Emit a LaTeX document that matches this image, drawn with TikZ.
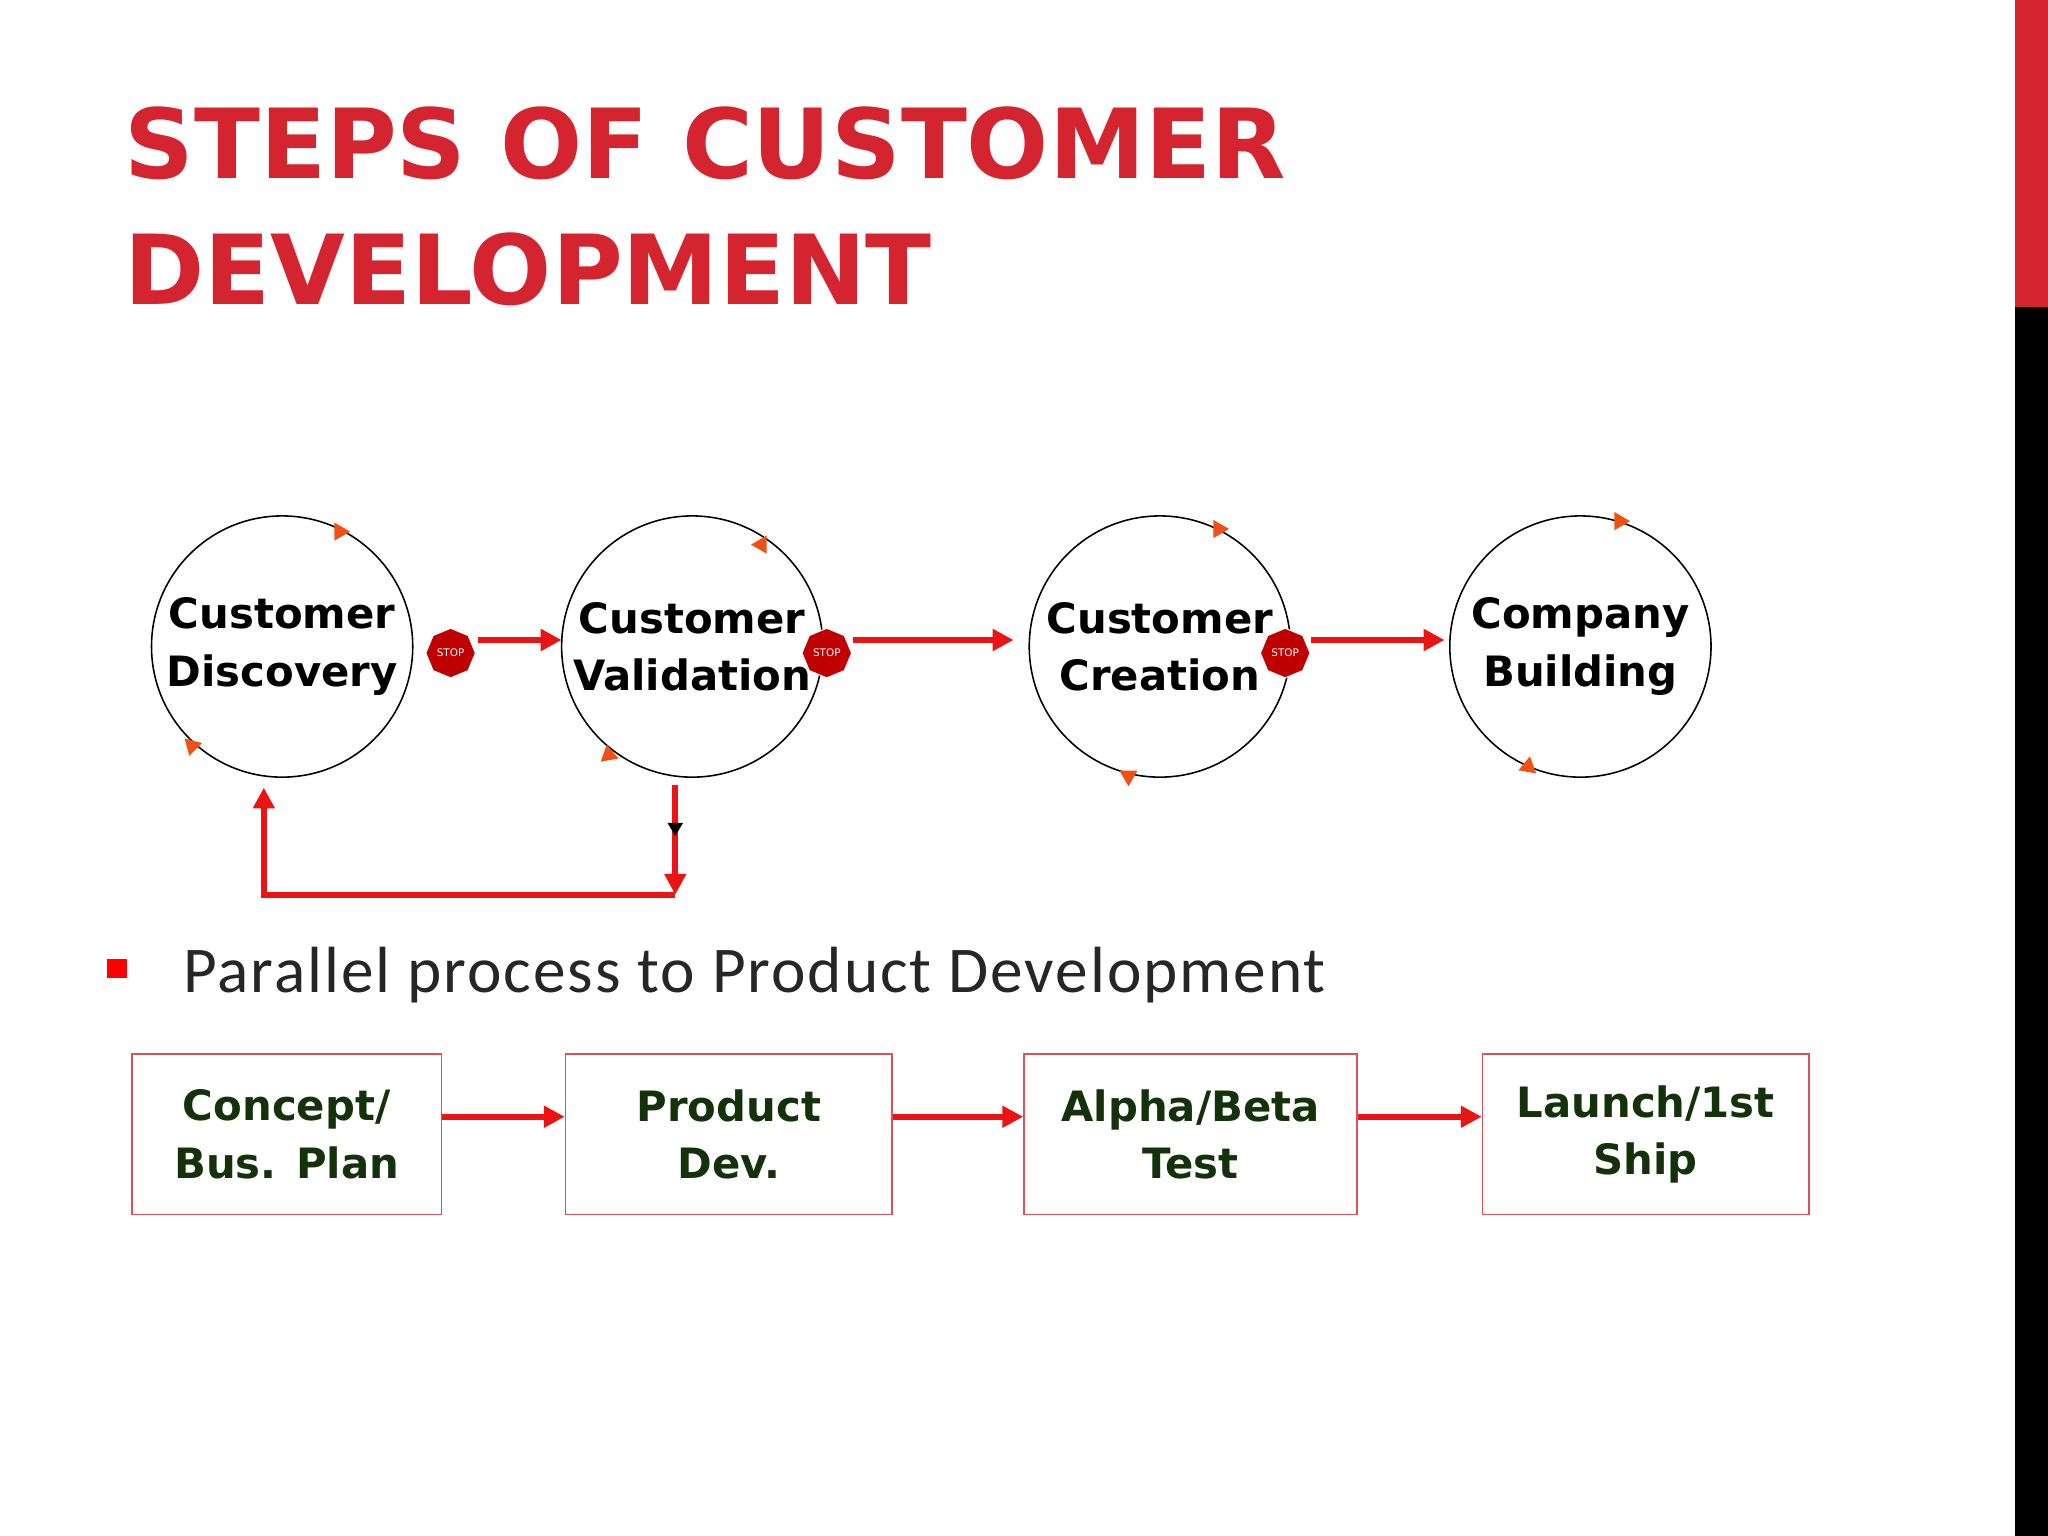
\documentclass[tikz,border=0pt]{standalone}
\usepackage{fontspec}
\setmainfont{Liberation Sans}
\newfontfamily\verd{DejaVu Sans}
\newfontfamily\calfont[LetterSpace=3]{Carlito}
\usetikzlibrary{shapes.geometric,arrows.meta}
\definecolor{tred}{RGB}{212,36,48}
\definecolor{ared}{RGB}{235,20,20}
\definecolor{tri}{RGB}{240,80,20}
\definecolor{dgreen}{RGB}{20,50,10}
\tikzset{
 circ/.style={draw,circle,minimum size=100pt,inner sep=0,line width=0.6pt,font=\verd\bfseries\fontsize{16}{22}\selectfont,align=center},
 stopsign/.style={regular polygon,regular polygon sides=8,fill=red!75!black,draw=white,line width=0.4pt,minimum size=19pt,inner sep=0,text=white,font=\verd\fontsize{4}{4}\selectfont,rotate=22.5},
 redarr/.style={draw=ared,line width=2.2pt,-{Triangle[length=8pt,width=8pt]}},
 tribit/.style={regular polygon,regular polygon sides=3,fill=tri,inner sep=0,minimum size=8pt},
 box/.style={draw=tred!80,line width=0.6pt,minimum height=61.5pt,inner sep=0,align=center,text=dgreen,font=\verd\bfseries\fontsize{16}{22}\selectfont}
}
\begin{document}
\begin{tikzpicture}[x=0.5pt,y=-0.5pt]
\useasboundingbox (0,0) rectangle (1568,1176);
\fill[white] (0,0) rectangle (1568,1176);
\fill[tred] (1543,0) rectangle (1568,235);
\fill[black] (1543,235) rectangle (1568,1176);
\node[anchor=base west,text=tred,font=\verd\bfseries\fontsize{37}{44}\selectfont,inner sep=0] (t1) at (95,137) {STEPS OF CUSTOMER};
\node[anchor=base west,text=tred,font=\verd\bfseries\fontsize{37}{44}\selectfont,inner sep=0] (t2) at (95,233) {DEVELOPMENT};
% circles
\node[circ] (c1) at (216,495) {Customer\\Discovery};
\node[circ] (c2) at (530,495) {Customer\\Validation};
\node[circ] (c3) at (888,495) {Customer\\Creation};
\node[circ] (c4) at (1210,495) {Company\\Building};
\node[stopsign] (s1) at (345,500) {\rotatebox{-22.5}{STOP}};
\node[stopsign] (s2) at (633,500) {\rotatebox{-22.5}{STOP}};
\node[stopsign] (s3) at (984,500) {\rotatebox{-22.5}{STOP}};
\coordinate (a1) at (366,490); \coordinate (b1) at (430,490);
\coordinate (a2) at (653,490); \coordinate (b2) at (776,490);
\coordinate (a3) at (1004,490); \coordinate (b3) at (1106,490);
\draw[redarr] (a1) -- (b1);
\draw[redarr] (a2) -- (b2);
\draw[redarr] (a3) -- (b3);
% triangles
\node[tribit,rotate=30] (r1) at (260,407) {};
\node[tribit,rotate=45] (r2) at (147,571) {};
\node[tribit,rotate=-30] (r3) at (583,417) {};
\node[tribit,rotate=10] (r4) at (466,578) {};
\node[tribit,rotate=30] (r5) at (933,405) {};
\node[tribit,rotate=60] (r6) at (864,594) {};
\node[tribit,rotate=30] (r7) at (1240,399) {};
\node[tribit,rotate=110] (r8) at (1170,587) {};
% feedback loop
\coordinate (f1) at (517,601); \coordinate (f2) at (517,685);
\coordinate (f3) at (202,685); \coordinate (f4) at (202,603);
\draw[redarr] (f1) -- (f2);
\draw[redarr] (f2) -- (f3) -- (f4);
\fill[black] (511,630) -- (523,630) -- (517,640) -- cycle;
% bullet
\fill[red] (82,734) rectangle (97,749);
\node[anchor=base west,inner sep=0,font=\calfont\fontsize{25}{28}\selectfont,text=black!85] (bt) at (140,760) {Parallel process to Product Development};
% boxes
\node[box,minimum width=118.5pt] (p1) at (219.5,868.5) {Concept/\\Bus. Plan};
\node[box,minimum width=125pt] (p2) at (558,868.5) {Product\\Dev.};
\node[box,minimum width=127.5pt] (p3) at (911.5,868.5) {Alpha/Beta\\Test};
\node[box,minimum width=125pt] (p4) at (1260,868.5) {Launch/1st\\Ship};
\draw[redarr] ([yshift=6.75pt]p1.east) -- ([yshift=6.75pt]p2.west);
\draw[redarr] ([yshift=6.75pt]p2.east) -- ([yshift=6.75pt]p3.west);
\draw[redarr] ([yshift=6.75pt]p3.east) -- ([yshift=6.75pt]p4.west);
\end{tikzpicture}
\end{document}
